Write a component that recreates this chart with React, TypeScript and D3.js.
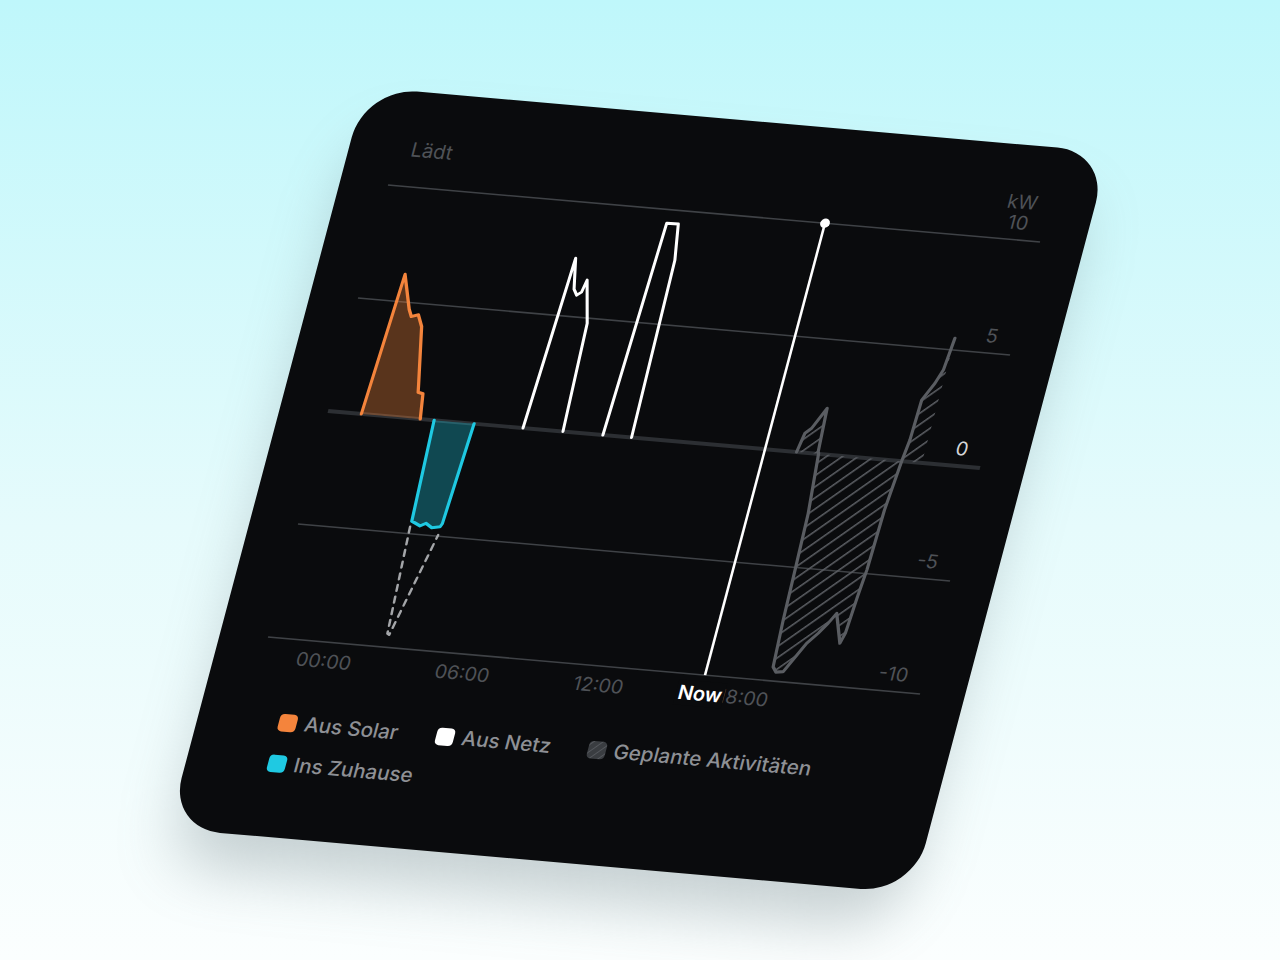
import React from "react";
import * as d3 from "d3";

// ---- data (hours since 00:00, kW) ----
const solarSeries: [number, number][] = [
  [0.0, 0], [0.28, 6.2], [0.85, 4.7], [1.02, 4.4], [1.3, 4.5], [1.57, 4.0],
  [2.1, 1.45], [2.16, 1.15], [2.38, 1.1], [2.55, 0],
];
const homeSeries: [number, number][] = [
  [3.15, 0], [3.34, -4.45], [3.74, -4.62], [3.96, -4.49], [4.26, -4.66],
  [4.6, -4.58], [4.66, -4.45], [4.88, 0],
];
const forecastSeries: [number, number][] = [
  [3.33, -4.7], [3.57, -9.4], [3.66, -9.45], [4.61, -4.95],
];
const gridSeriesA: [number, number][] = [
  [7.0, 0], [7.32, 7.54], [7.6, 6.2], [7.78, 5.95], [7.95, 6.1], [8.05, 6.64], [8.54, 4.77], [8.73, 0],
];
const gridSeriesB: [number, number][] = [
  [10.46, 0], [10.78, 9.4], [11.28, 9.41], [11.54, 7.84], [11.7, 0],
];
const plannedSeries: [number, number][] = [
  [18.85, 0], [18.99, 0.84], [19.22, 1.08], [19.65, 2.0], [19.76, 0.09], [19.8, 0],
  [20.03, -2.61], [20.11, -5.11], [20.17, -7.32], [20.27, -9.38], [20.45, -9.6],
  [20.75, -9.55], [21.42, -8.24], [21.8, -7.76], [22.11, -7.29], [22.36, -6.83],
  [22.83, -8.11], [22.95, -7.66], [23.05, -6.03], [23.15, -4.83], [23.22, -2.18],
  [23.33, -0.84], [23.4, 0], [23.51, 0.95], [23.56, 2.72], [23.93, 3.49],
  [24.14, 4.1], [24.27, 5.51],
];
const nowHour = 17.48;
const kwTicks = [10, 5, 0, -5, -10];
const timeTicks = [0, 6, 12, 18];
const timeTickLabels = ["00:00", "06:00", "12:00", "18:00"];
const legendItems = [
  { key: "solar", label: "Aus Solar" },
  { key: "grid", label: "Aus Netz" },
  { key: "planned", label: "Geplante Aktivitäten" },
  { key: "home", label: "Ins Zuhause" },
];

// ---- styling ----
const ORANGE = "#f4843c";
const CYAN = "#1fc9e2";
const HATCH = "#5a5d62";
const CARD = "#0a0b0d";
const MUTED = "#4f5257";
const FONT = "Inter, 'Noto Sans', sans-serif";

const W = 654.5;
const x = d3.scaleLinear().domain([0, 24]).range([33.5, 33.5 + 556.3]);
const y = d3.scaleLinear().domain([10, -10]).range([0, 467.6]);

const line = d3.line<[number, number]>().x((d) => x(d[0])).y((d) => y(d[1]));
const area = d3
  .area<[number, number]>()
  .x((d) => x(d[0]))
  .y0(() => y(0))
  .y1((d) => y(d[1]));

const legendPos: Record<string, [number, number]> = {
  solar: [41.8, 553],
  grid: [199.7, 553],
  planned: [352.2, 553],
  home: [41.9, 595],
};

export default function App() {
  return (
    <div style={{ position: "fixed", left: 0, top: 0, width: 1280, height: 960 }}>
      <svg width={1280} height={960} style={{ display: "block" }}>
        <defs>
          <linearGradient id="bg" x1="0" y1="0" x2="0" y2="1">
            <stop offset="0%" stopColor="#bff7fb" />
            <stop offset="55%" stopColor="#e6fbfc" />
            <stop offset="100%" stopColor="#fbfefe" />
          </linearGradient>
          <filter id="shadow" x="-30%" y="-30%" width="160%" height="170%" colorInterpolationFilters="sRGB">
            <feGaussianBlur stdDeviation="30" />
          </filter>
          <pattern id="hatch" width="10" height="10" patternUnits="userSpaceOnUse" patternTransform="rotate(45)">
            <line x1="0" y1="-1" x2="0" y2="11" stroke={HATCH} strokeWidth="3.4" />
          </pattern>
          <pattern id="hatchSw" width="6" height="6" patternUnits="userSpaceOnUse" patternTransform="rotate(45)">
            <rect width="6" height="6" fill="#3a3d41" />
            <line x1="0" y1="-1" x2="0" y2="7" stroke="#55585d" strokeWidth="2" />
          </pattern>
        </defs>
        <rect width={1280} height={960} fill="url(#bg)" />
        <g transform="matrix(0.9962,0.0871,-0.2566,0.9665,388,185)" fontFamily={FONT}>
          <rect x={-40} y={-50} width={731} height={758} rx={52} fill="#6f7f84" opacity={0.35} filter="url(#shadow)" />
          <rect x={-48} y={-97} width={747} height={767} rx={52} fill={CARD} />

          <text x={13.5} y={-31} fontSize={20} fill={MUTED}>Lädt</text>

          {/* grid lines */}
          {kwTicks.map((k) => (
            <line
              key={k}
              x1={0}
              x2={W}
              y1={y(k)}
              y2={y(k)}
              stroke={k === 0 ? "#2c2f33" : "#3f4246"}
              strokeWidth={k === 0 ? 4 : 1.6}
            />
          ))}
          {kwTicks.map((k) => (
            <text
              key={"l" + k}
              x={638}
              y={y(k) - 11}
              textAnchor="end"
              fontSize={19.5}
              fill={k === 0 ? "#d4d5d7" : MUTED}
            >
              {k}
            </text>
          ))}
          <text x={642} y={-32} textAnchor="end" fontSize={19.5} fill={MUTED}>kW</text>

          {/* solar */}
          <path d={area(solarSeries) || ""} fill={ORANGE} fillOpacity={0.34} />
          <path d={line(solarSeries) || ""} fill="none" stroke={ORANGE} strokeWidth={3.2} strokeLinejoin="round" strokeLinecap="round" />

          {/* home */}
          <path d={area(homeSeries) || ""} fill={CYAN} fillOpacity={0.32} />
          <path d={line(homeSeries) || ""} fill="none" stroke={CYAN} strokeWidth={3.2} strokeLinejoin="round" strokeLinecap="round" />

          {/* forecast dashed */}
          <path
            d={line(forecastSeries) || ""}
            fill="none"
            stroke="#a4a6a9"
            strokeWidth={2.5}
            strokeDasharray="6 6"
            strokeLinejoin="round"
            strokeLinecap="round"
          />

          {/* grid import */}
          {[gridSeriesA, gridSeriesB].map((s, i) => (
            <path key={i} d={line(s) || ""} fill="none" stroke="#ffffff" strokeWidth={3} strokeLinejoin="round" strokeLinecap="round" />
          ))}

          {/* planned */}
          <path d={area(plannedSeries) || ""} fill="url(#hatch)" />
          <path d={line(plannedSeries) || ""} fill="none" stroke={HATCH} strokeWidth={3.2} strokeLinejoin="round" strokeLinecap="round" />

          {/* now line */}
          <line x1={x(nowHour)} x2={x(nowHour)} y1={y(-10)} y2={y(10)} stroke="#ffffff" strokeWidth={2.6} />
          <circle cx={x(nowHour)} cy={y(10)} r={4.8} fill="#ffffff" />

          {/* time labels */}
          {timeTicks.map((t, i) => (
            <text key={t} x={x(t) + (t === 18 ? 6 : 0)} y={494} fontSize={19.5} fill={MUTED}>
              {timeTickLabels[i]}
            </text>
          ))}
          <rect x={x(nowHour) - 24} y={474} width={48} height={26} fill={CARD} />
          <text x={x(nowHour)} y={494} textAnchor="middle" fontSize={20} fontWeight={600} fill="#ffffff">
            Now
          </text>

          {/* legend */}
          {legendItems.map((it) => {
            const [lx, ly] = legendPos[it.key];
            const fill =
              it.key === "solar" ? ORANGE : it.key === "home" ? CYAN : it.key === "grid" ? "#ffffff" : "url(#hatchSw)";
            return (
              <g key={it.key}>
                <rect x={lx - 9} y={ly - 9} width={18} height={18} rx={4.5} fill={fill} />
                <text x={lx + 17} y={ly + 7} fontSize={20.5} fontWeight={500} fill="#8e9095">
                  {it.label}
                </text>
              </g>
            );
          })}
        </g>
      </svg>
    </div>
  );
}
